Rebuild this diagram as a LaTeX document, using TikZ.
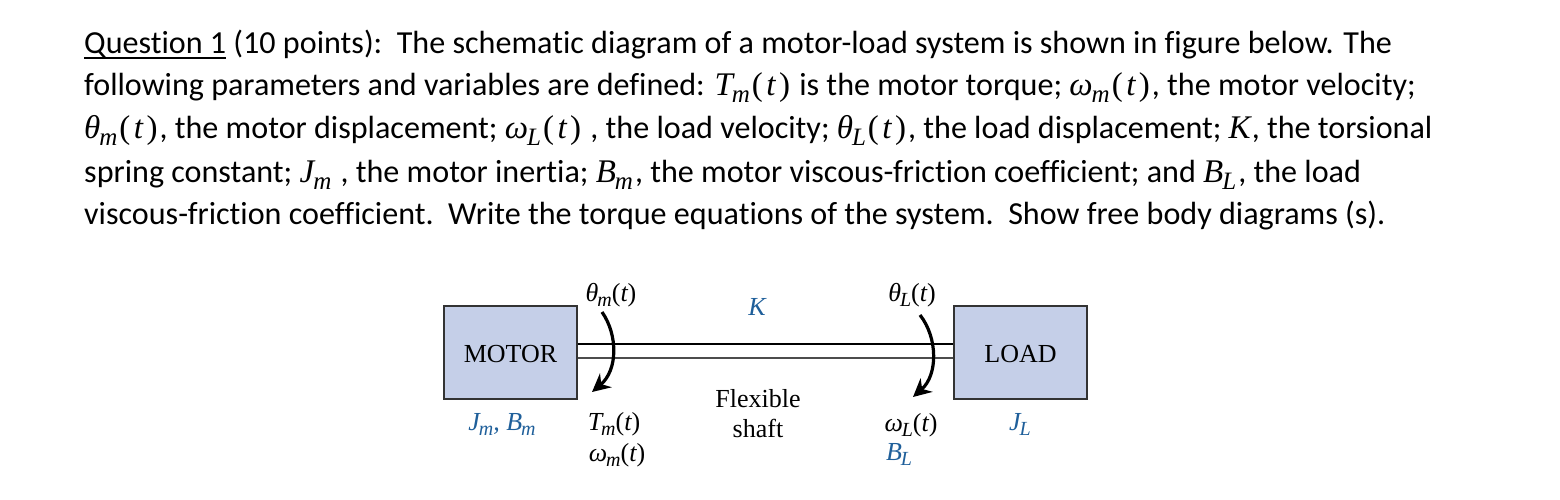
\documentclass[tikz,border=0pt]{standalone}
\usepackage{amsmath, amssymb}
\usepackage{fontspec}
\setmainfont{Carlito}[Ligatures=CommonOff]
\newfontfamily\figfont{Liberation Serif}
\usetikzlibrary{arrows.meta}
\newcommand{\bodysize}{\fontsize{32.1}{38}\selectfont}
\newcommand{\figsize}{\figfont\fontsize{26}{30}\selectfont}
\newcommand{\figsub}[1]{\kern-1pt\raisebox{-5pt}{\fontsize{20}{20}\selectfont #1}}
% symbols inside the running text
\newcommand{\bodysym}[2]{{\figfont\fontsize{33}{38}\selectfont\itshape #1\kern-1pt\raisebox{-7pt}{\fontsize{25}{25}\selectfont #2}\kern2pt}}
\newcommand{\bodyfun}[2]{\bodysym{#1}{#2}{\figfont\fontsize{33}{38}\selectfont(\kern3.5pt{\itshape t}\kern3.5pt)\kern2pt}}
\newcommand{\headline}[1]{\setbox0=\hbox{#1}\rlap{\rule[-4.6pt]{\wd0}{1.8pt}}\box0\relax}
\tikzset{
  textline/.style={anchor=base west,inner sep=0pt,font=\bodysize},
  block/.style={draw=black!80,line width=1.3pt,fill=blockfill,minimum width=133pt,minimum height=93pt,inner sep=0pt,font=\figsize},
  figlabel/.style={anchor=base,inner sep=0pt,font=\figsize},
  bluelabel/.style={figlabel,text=labelblue},
  twist/.style={line width=3.2pt,-{Stealth[length=18pt,width=18pt]}}
}
\definecolor{blockfill}{HTML}{C5CFE8}
\definecolor{labelblue}{HTML}{1F5F9A}
\begin{document}
\begin{tikzpicture}[x=1pt,y=-1pt]
    \useasboundingbox (0,0) rectangle (1560,500);
    \node[textline] (line1) at (84,54) {\headline{Question 1} (10 points):\ \ The schematic diagram of a motor-load system is shown in figure below. The};
    \node[textline] (line2) at (84,96) {following parameters and variables are defined: \bodyfun{T}{m} is the motor torque; \bodyfun{ω}{m}, the motor velocity;};
    \node[textline] (line3) at (84,139) {\bodyfun{θ}{m}, the motor displacement; \bodyfun{ω}{L} , the load velocity; \bodyfun{θ}{L}, the load displacement; \bodysym{K}{}, the torsional};
    \node[textline] (line4) at (84,182) {spring constant; \bodysym{J}{m} , the motor inertia; \bodysym{B}{m}, the motor viscous-friction coefficient; and \bodysym{B}{L}, the load};
    \node[textline] (line5) at (84,224) {viscous-friction coefficient.\ \ Write the torque equations of the system.\ \ Show free body diagrams (s).};
    \node[block] (motor) at (510.5,352.5) {\raisebox{0pt}[19pt][0pt]{MOTOR}};
    \node[block] (load) at (1020.5,352.5) {\raisebox{0pt}[19pt][0pt]{LOAD}};
    \draw[line width=2pt] ([yshift=8.5pt]motor.east) -- ([yshift=8.5pt]load.west);
    \draw[line width=1.2pt,black!70] ([yshift=-5.5pt]motor.east) -- ([yshift=-5.5pt]load.west);
    \coordinate (motorstart) at (602,312);
    \coordinate (motorend) at (592,392);
    \coordinate (loadstart) at (920,315);
    \coordinate (loadend) at (913,397);
    \draw[twist] (motorstart) .. controls (618,335) and (618,370) .. (motorend);
    \draw[twist] (loadstart) .. controls (938,338) and (938,375) .. (loadend);
    \node[figlabel] (thetam) at (611,301) {\itshape θ\figsub{m}\upshape(\itshape t\upshape)};
    \node[figlabel] (thetal) at (912,301) {\itshape θ\figsub{L}\upshape(\itshape t\upshape)};
    \node[bluelabel] (springk) at (757,315) {\itshape K};
    \node[figlabel] (flexible) at (758,407) {Flexible};
    \node[figlabel] (shaft) at (758,437) {shaft};
    \node[bluelabel] (motorjb) at (502,430) {\itshape J\figsub{m}, B\figsub{m}};
    \node[figlabel] (torquem) at (614,430) {\itshape T\figsub{m}\upshape(\itshape t\upshape)};
    \node[figlabel] (omegam) at (617,461) {\itshape ω\figsub{m}\upshape(\itshape t\upshape)};
    \node[figlabel] (omegal) at (911,431) {\itshape ω\figsub{L}\upshape(\itshape t\upshape)};
    \node[bluelabel] (bl) at (899,460) {\itshape B\figsub{L}};
    \node[bluelabel] (jl) at (1020,430) {\itshape J\figsub{L}};
\end{tikzpicture}
\end{document}
